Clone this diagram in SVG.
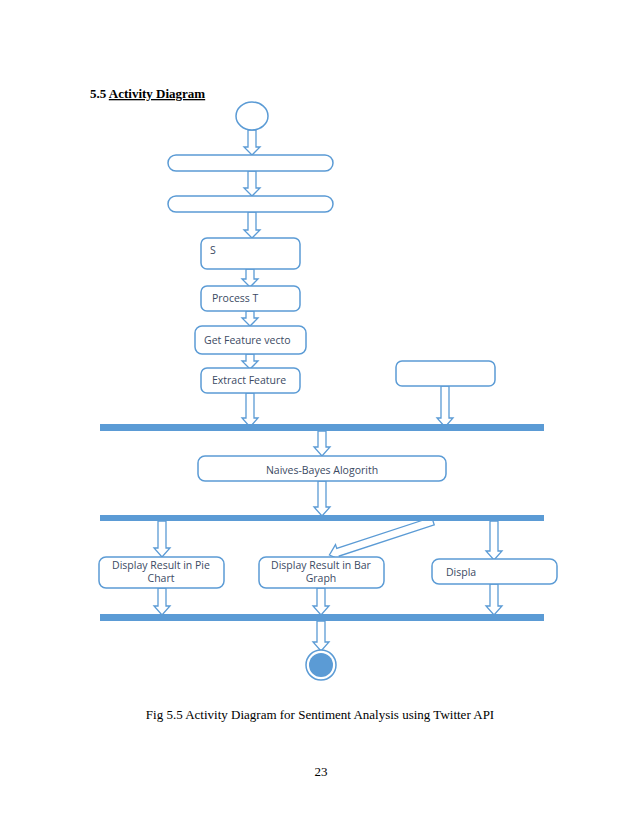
<svg xmlns="http://www.w3.org/2000/svg" width="638" height="826" viewBox="0 0 638 826">
<style>
.n{fill:#fff;stroke:#5b9bd5;stroke-width:1.5}
.a{fill:#fff;stroke:#5b9bd5;stroke-width:1.3}
.bar{fill:#5b9bd5}
.t{font-family:"Open Sans","Liberation Sans",sans-serif;font-size:10.5px;fill:#3b4a63}
.h{font-family:"Liberation Serif",serif;font-size:13px;fill:#000}
</style>
<rect width="638" height="826" fill="#fff"/>
<text class="h" x="90" y="98" font-weight="bold">5.5 <tspan text-decoration="underline">Activity Diagram</tspan></text>
<g id="connectors">
<path class="a" d="M248 130H256V147H260L252 155L244 147H248Z"/>
<path class="a" d="M248 171H256V188H260L252 196L244 188H248Z"/>
<path class="a" d="M248 212H256V230H260L252 238L244 230H248Z"/>
<path class="a" d="M246 269H254V279H258L250 287L242 279H246Z"/>
<path class="a" d="M246 311H254V318H258L250 326L242 318H246Z"/>
<path class="a" d="M246 354H254V361H258L250 369L242 361H246Z"/>
<path class="a" d="M246 393H254V418H258L250 427L242 418H246Z"/>
<path class="a" d="M441 386H449V418H453L445 427L437 418H441Z"/>
<path class="a" d="M318 431H326V447H330L322 456L314 447H318Z"/>
<path class="a" d="M318 481H326V507H330L322 516L314 507H318Z"/>
<path class="a" d="M158 521H166V548H170L162 557L154 548H158Z"/>
<path class="a" d="M490 521H498V551H502L494 560L486 551H490Z"/>
<path class="a" d="M-4 0H4V100H8L0 109L-8 100H-4Z" transform="translate(433,521) rotate(71.8)"/>
<path class="a" d="M158 588H166V606H170L162 615L154 606H158Z"/>
<path class="a" d="M317 588H325V606H329L321 615L313 606H317Z"/>
<path class="a" d="M490 584H498V606H502L494 615L486 606H490Z"/>
<path class="a" d="M317 621H325V642H329L321 651L313 642H317Z"/>
</g>
<g id="start"><ellipse class="n" cx="252" cy="116" rx="16" ry="14"/></g>
<g id="box1"><rect class="n" x="168" y="155" width="165" height="16" rx="8"/></g>
<g id="box2"><rect class="n" x="168" y="196" width="165" height="16" rx="8"/></g>
<g id="box3"><rect class="n" x="201" y="238" width="99" height="31" rx="6"/><text class="t" x="210" y="254">S</text></g>
<g id="box4"><rect class="n" x="201" y="286" width="99" height="25" rx="6"/><text class="t" x="212" y="302">Process T</text></g>
<g id="box5"><rect class="n" x="195" y="326" width="111" height="28" rx="7"/><text class="t" x="204" y="344">Get Feature vecto</text></g>
<g id="box6"><rect class="n" x="201" y="368" width="99" height="25" rx="6"/><text class="t" x="212" y="384">Extract Feature</text></g>
<g id="boxR"><rect class="n" x="396" y="361" width="99" height="25" rx="6"/></g>
<g id="bar1"><rect class="bar" x="100" y="424" width="444" height="7"/></g>
<g id="naive"><rect class="n" x="198" y="456" width="248" height="25" rx="7"/><text class="t" x="322" y="474" font-size="14" text-anchor="middle">Naives-Bayes Alogorith</text></g>
<g id="bar2"><rect class="bar" x="100" y="515" width="444" height="6"/></g>
<g id="pie"><rect class="n" x="99" y="557" width="125" height="31" rx="7"/><text class="t" x="161" y="569" text-anchor="middle">Display Result in Pie</text><text class="t" x="161" y="582" text-anchor="middle">Chart</text></g>
<g id="bargraph"><rect class="n" x="259" y="557" width="125" height="31" rx="7"/><text class="t" x="321" y="569" text-anchor="middle">Display Result in Bar</text><text class="t" x="321" y="582" text-anchor="middle">Graph</text></g>
<g id="displa"><rect class="n" x="432" y="559" width="125" height="25" rx="7"/><text class="t" x="446" y="576">Displa</text></g>
<g id="bar3"><rect class="bar" x="100" y="614" width="444" height="7"/></g>
<g id="end"><circle class="n" cx="321" cy="665" r="15"/><circle cx="321" cy="665" r="12" fill="#5b9bd5"/></g>
<text class="h" x="320" y="719" text-anchor="middle">Fig 5.5 Activity Diagram for Sentiment Analysis using Twitter API</text>
<text class="h" x="321" y="776" text-anchor="middle" font-size="12" fill="#4f81bd">23</text>
</svg>
